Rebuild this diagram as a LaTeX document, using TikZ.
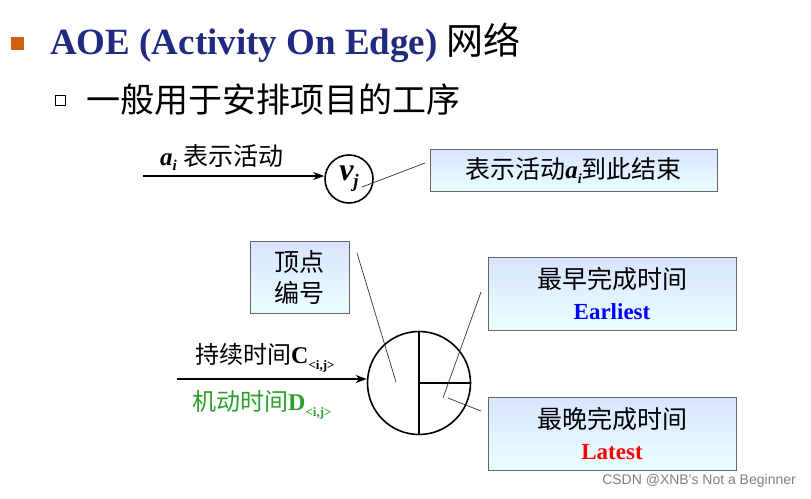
\documentclass[tikz,border=0pt]{standalone}
\usepackage{fontspec}
\setmainfont{Liberation Serif}
\newfontfamily\cjk{Noto Sans CJK SC}
\newfontfamily\wm{Liberation Sans}
\usetikzlibrary{arrows.meta}
\definecolor{navy}{HTML}{1F2A80}
\definecolor{bul}{HTML}{D06010}
\definecolor{gr}{HTML}{2AA02A}
\tikzset{
 box/.style={draw=gray!80!black,top color=cyan!30!blue!15,bottom color=cyan!8!white,minimum width=#1,minimum height=42pt,align=center,inner sep=0pt,font=\fontsize{25}{31}\selectfont},
 lead/.style={draw=gray!40!black,line width=0.7pt},
 arr/.style={-{Stealth[length=11pt,width=8pt]},line width=1.8pt},
}
\begin{document}
\begin{tikzpicture}[x=1pt,y=-1pt]
\useasboundingbox (0,0) rectangle (811,498);
\fill[bul] (11,37) rectangle (24,50);
\node[anchor=west,inner sep=0] (title) at (50,43) {\fontsize{37}{40}\selectfont\bfseries\color{navy}AOE (Activity On Edge) {\cjk\mdseries\color{black}网络}};
\draw[line width=1pt] (55,95) rectangle (65,105);
\node[anchor=west,inner sep=0] (sub) at (86,100) {\fontsize{34}{36}\selectfont\cjk 一般用于安排项目的工序};
% top
\node[circle,draw,line width=1.6pt,minimum size=48pt,inner sep=0] (vj) at (349,179) {\fontsize{32}{32}\selectfont\bfseries\itshape v\raisebox{-7pt}{\fontsize{19}{19}\selectfont j}};
\coordinate (s1) at (143,176);
\draw[arr] (s1) -- (vj.west |- s1);
\node[anchor=west,inner sep=0] (ai) at (160,157) {\fontsize{25}{25}\selectfont\bfseries\itshape a\raisebox{-5pt}{\fontsize{15}{15}\selectfont i}\ {\cjk\mdseries\upshape 表示活动}};
\node[box=287pt] (b1) at (573.5,170) {\cjk 表示活动{\rmfamily\bfseries\itshape a\raisebox{-5pt}{\fontsize{14}{14}\selectfont i}}到此结束};
\coordinate (l1) at (425,163);
\draw[lead] (362,187) -- (l1);
% bottom
\node[circle,draw,line width=1.6pt,minimum size=103pt,inner sep=0] (c) at (419,383) {};
\draw[line width=1.6pt] (c.north) -- (c.south);
\draw[line width=1.6pt] (c.center) -- (c.east);
\node[box=99pt,minimum height=72pt] (b2) at (299.5,277) {{\cjk 顶点}\\{\cjk 编号}};
\node[box=248pt,minimum height=73pt] (b3) at (612,293.5) {{\cjk 最早完成时间}\\{\fontsize{23}{26}\selectfont\bfseries\color{blue}Earliest}};
\node[box=248pt,minimum height=73pt] (b4) at (612,433.5) {{\cjk 最晚完成时间}\\{\fontsize{23}{26}\selectfont\bfseries\color{red}Latest}};
\draw[lead] (357,253) -- (396,382);
\draw[lead] (481,292) -- (443,398);
\draw[lead] (448,398) -- (481,411);
\coordinate (s2) at (177,379);
\draw[arr] (s2) -- (c.west |- s2);
\node[anchor=west,inner sep=0] (cl) at (195,358) {\fontsize{24}{24}\selectfont\cjk 持续时间{\rmfamily\bfseries C\raisebox{-6pt}{\fontsize{13}{13}\selectfont <i,j>}}};
\node[anchor=west,inner sep=0,text=gr] (dl) at (192,405) {\fontsize{24}{24}\selectfont\cjk 机动时间{\rmfamily\bfseries D\raisebox{-6pt}{\fontsize{13}{13}\selectfont <i,j>}}};
\node[anchor=east,inner sep=0,text=gray] (wmk) at (796,481) {\wm\fontsize{14}{14}\selectfont CSDN @XNB's Not a Beginner};
\end{tikzpicture}
\end{document}
